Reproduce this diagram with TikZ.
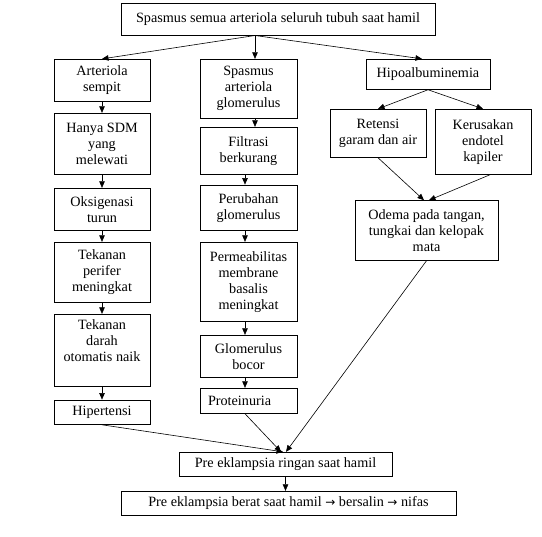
\documentclass[tikz,border=0pt]{standalone}
\usepackage{fontspec}
\setmainfont{Liberation Serif}
\newfontfamily\arrowfont{DejaVu Sans}
\usetikzlibrary{arrows.meta}
\newcommand{\myarrow}{{\arrowfont\fontsize{12pt}{16pt}\selectfont →}}
\begin{document}
\begin{tikzpicture}[x=1pt,y=-1pt,
  box/.style={draw, line width=0.9pt, inner sep=0pt, align=center,
    font=\fontsize{14.2pt}{16pt}\selectfont},
  arr/.style={line width=0.6pt, -{Triangle[length=6.5pt,width=5.5pt]}}]
\useasboundingbox (0,0) rectangle (542,537);
\node[box, minimum width=314pt, minimum height=31.7pt] (top) at (278,19.2) {Spasmus semua arteriola seluruh tubuh saat hamil};
% left column
\node[box, minimum width=96pt, minimum height=41.7pt] (A1) at (102,80.2) {Arteriola\\sempit};
\node[box, minimum width=96pt, minimum height=61pt] (A2) at (102,143.8) {Hanya SDM\\yang\\melewati};
\node[box, minimum width=96pt, minimum height=42.4pt] (A3) at (102,209.5) {Oksigenasi\\turun};
\node[box, minimum width=96pt, minimum height=60pt] (A4) at (102,272.3) {Tekanan\\perifer\\meningkat};
\node[box, minimum width=96pt, minimum height=71.7pt] (A5) at (102,350.2) {Tekanan\\darah\\otomatis naik\\[-2pt] \strut};
\node[box, minimum width=96pt, minimum height=24.3pt] (A6) at (102,412.2) {Hipertensi};
% middle column
\node[box, minimum width=97pt, minimum height=59pt] (B1) at (248.5,88.8) {Spasmus\\arteriola\\glomerulus};
\node[box, minimum width=97pt, minimum height=47pt] (B2) at (248.5,150.8) {Filtrasi\\berkurang};
\node[box, minimum width=97pt, minimum height=45.7pt] (B3) at (248.5,207.9) {Perubahan\\glomerulus};
\node[box, minimum width=97pt, minimum height=79.4pt] (B4) at (248.5,282) {Permeabilitas\\membrane\\basalis\\meningkat};
\node[box, minimum width=97pt, minimum height=42pt] (B5) at (248.5,356.3) {Glomerulus\\bocor};
\node[box, text width=81pt, inner xsep=8pt, align=left, minimum height=25pt] (B6) at (248.5,400.8) {Proteinuria};
% right column
\node[box, minimum width=124pt, minimum height=30pt] (C1) at (428,74.3) {Hipoalbuminemia};
\node[box, minimum width=96pt, minimum height=48pt] (C2) at (378,133.3) {Retensi\\garam dan air};
\node[box, minimum width=96pt, minimum height=65pt] (C3) at (483,141.8) {Kerusakan\\endotel\\kapiler};
\node[box, minimum width=143pt, minimum height=59.6pt] (D) at (426.5,230.5) {Odema pada tangan,\\tungkai dan kelopak\\mata};
% bottom
\node[box, minimum width=213pt, minimum height=24pt] (P1) at (285.5,464.3) {Pre eklampsia ringan saat hamil};
\node[box, minimum width=335pt, minimum height=24pt] (P2) at (288.5,503.3) {Pre eklampsia berat saat hamil \myarrow{} bersalin \myarrow{} nifas};
% connectors
\draw[arr] ([xshift=-23pt]top.south) -- (A1.north);
\draw[arr] ([xshift=-23pt]top.south) -- ([xshift=6.5pt]B1.north);
\draw[arr] ([xshift=-23pt]top.south) -- ([xshift=-6pt]C1.north);
\draw[arr] (A1) -- (A2);
\draw[arr] (A2) -- (A3);
\draw[arr] (A3) -- (A4);
\draw[arr] (A4) -- (A5);
\draw[arr] (A5) -- (A6);
\draw[arr] ([xshift=6.5pt]B1.south) -- ([xshift=6.5pt]B2.north);
\draw[arr] ([xshift=-3.5pt]B2.south) -- ([xshift=-3.5pt]B3.north);
\draw[arr] ([xshift=-3.5pt]B3.south) -- ([xshift=-3.5pt]B4.north);
\draw[arr] ([xshift=-3.5pt]B4.south) -- ([xshift=-3.5pt]B5.north);
\draw[arr] ([xshift=-3.5pt]B5.south) -- ([xshift=-3.5pt]B6.north);
\draw[arr] (C1.south) -- (C2.north);
\draw[arr] (C1.south) -- (C3.north);
\draw[arr] (C2.south) -- ([xshift=-2.5pt]D.north);
\draw[arr] ([xshift=7pt]C3.south) -- ([xshift=2.5pt]D.north);
\draw[arr] (D.south) -- ([xshift=0.5pt]P1.north);
\draw[arr] (A6.south) -- ([xshift=-2.5pt]P1.north);
\draw[arr] ([xshift=-3.5pt]B6.south) -- ([xshift=-4.5pt]P1.north);
\draw[arr] (P1.south) -- (P1.south |- P2.north);
\end{tikzpicture}
\end{document}
